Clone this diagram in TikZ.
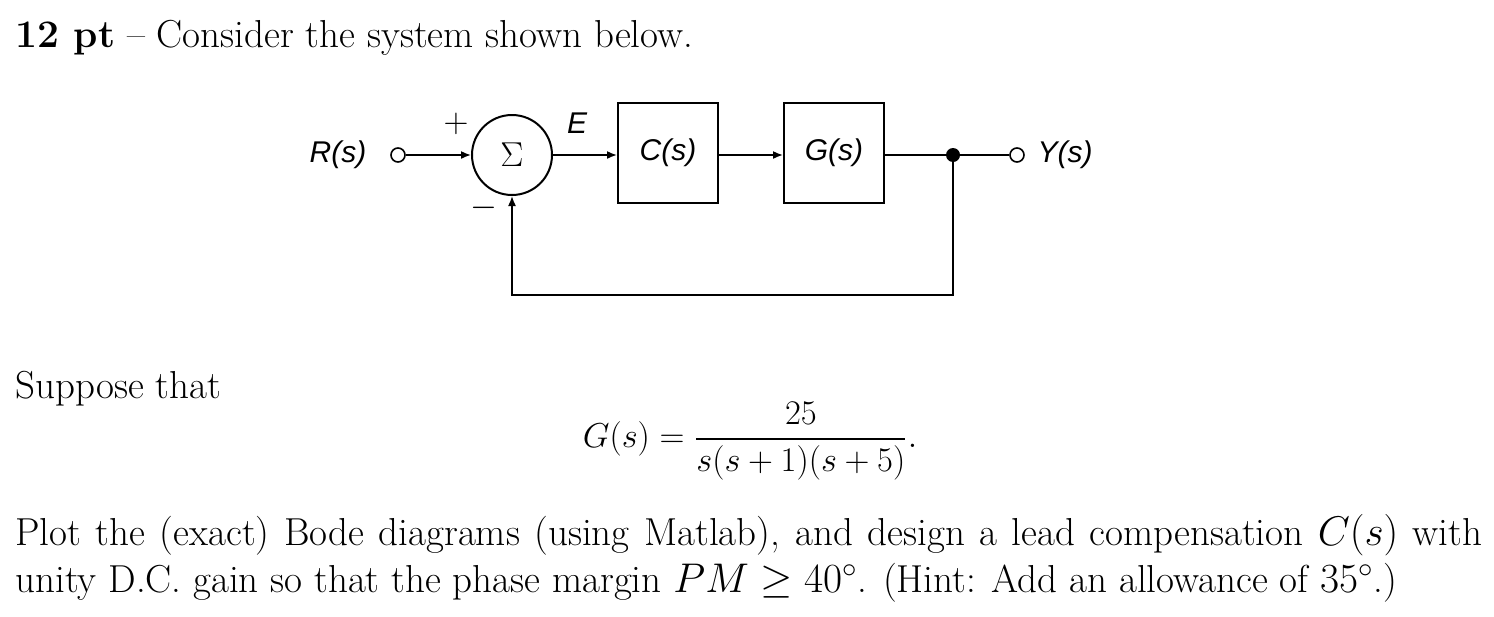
\documentclass[tikz,border=0pt]{standalone}
\usepackage{amsmath}
\usepackage{fontspec}
\newfontfamily\diag{Liberation Sans}
\usetikzlibrary{arrows.meta}
\begin{document}
\begin{tikzpicture}[x=0.5pt,y=-0.5pt,
  blk/.style={draw,line width=1pt,minimum width=50pt,minimum height=50pt,font=\diag\itshape\fontsize{15}{17}\selectfont},
  sig/.style={line width=0.8pt},
  arr/.style={sig,-{Latex[length=5pt,width=4pt]}},
  lbl/.style={font=\diag\itshape\fontsize{15}{17}\selectfont},
  txt/.style={anchor=west,inner sep=0pt,font=\fontsize{19.5}{24}\selectfont}]
\useasboundingbox (0,0) rectangle (1494,616);
\node[txt,anchor=base west] (title) at (15,47) {\textbf{12 pt} -- Consider the system shown below.};
\node[lbl] (Rl) at (338,155) {R(s)};
\node[draw,circle,inner sep=0pt,minimum size=7pt,sig] (rin) at (398,155) {};
\node[draw,circle,line width=1pt,minimum size=40pt,inner sep=0pt,font=\fontsize{19}{20}\selectfont] (sum) at (512,155) {$\Sigma$};
\node[font=\fontsize{17}{18}\selectfont] (plus) at (456,124) {$+$};
\node[font=\fontsize{17}{18}\selectfont] (minus) at (484,208) {$-$};
\node[lbl] (E) at (577,123) {E};
\node[blk] (C) at (668,153) {C(s)};
\node[blk] (G) at (834,153) {G(s)};
\fill (953,155) circle (3.5pt) coordinate (dot);
\node[draw,circle,inner sep=0pt,minimum size=7pt,sig] (yout) at (1017,155) {};
\node[lbl] (Yl) at (1065,155) {Y(s)};
\draw[arr] (rin) -- (sum);
\draw[arr] (sum) -- (sum -| C.west);
\draw[arr] (C.east |- 0,155) -- (G.west |- 0,155);
\draw[sig] (G.east |- 0,155) -- (yout);
\coordinate (fb) at (953,295);
\coordinate (fb2) at (512,295);
\draw[arr] (dot) -- (fb) -- (fb2) -- (sum.south);
\node[txt,anchor=base west] (sup) at (15,398) {Suppose that};
\node[inner sep=0pt,font=\fontsize{19}{24}\selectfont] (eq) at (750,441) {$\displaystyle G(s)=\frac{25}{s(s+1)(s+5)}.$};
\node[anchor=north west,inner sep=0pt,text width=733.5pt,align=justify,font=\fontsize{19.5}{23.5}\selectfont] (body) at (15,514)
{Plot the (exact) Bode diagrams (using Matlab), and design a lead compensation $C(s)$ with unity D.C.\ gain so that the phase margin $PM\geq 40^\circ$. (Hint: Add an allowance of $35^\circ$.)};
\end{tikzpicture}
\end{document}
